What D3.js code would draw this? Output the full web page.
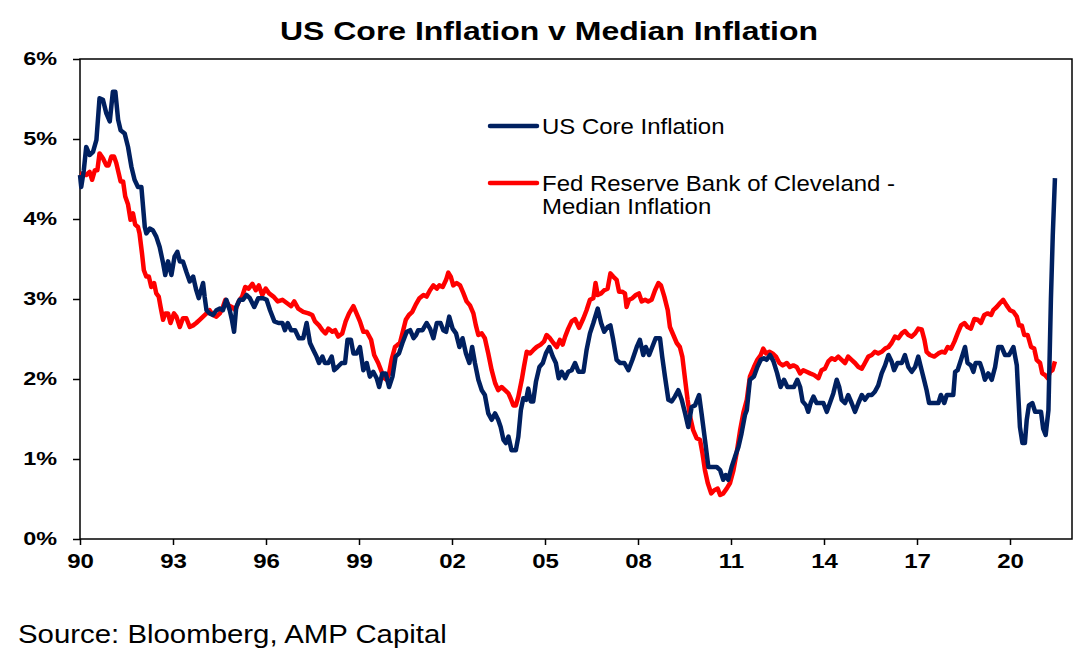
<!DOCTYPE html>
<meta charset="utf-8">
<head>
<script src="https://cdn.jsdelivr.net/npm/d3@7"></script>
<style>
	body { margin: 0; background: #fff; }
	text { font-family: Arial, "Liberation Sans", sans-serif; }
</style>
</head>
<body>
<div id="chart"></div>
<script>

// ---------- data (decimal year, % y/y) ----------
const coreInflation = [
	[1990.00,4.55],[1990.04,4.40],[1990.12,4.60],[1990.20,4.90],[1990.31,4.80],[1990.42,4.84],[1990.53,4.99],[1990.63,5.51],
	[1990.74,5.49],[1990.85,5.32],[1990.96,5.22],[1991.06,5.59],[1991.14,5.59],[1991.23,5.24],[1991.31,5.11],[1991.44,5.07],
	[1991.55,4.90],[1991.66,4.65],[1991.76,4.49],[1991.87,4.40],[1991.98,4.40],[1992.09,3.90],[1992.14,3.82],[1992.25,3.88],
	[1992.35,3.86],[1992.46,3.78],[1992.57,3.65],[1992.68,3.45],[1992.75,3.30],[1992.84,3.47],[1992.95,3.30],[1993.05,3.53],
	[1993.14,3.59],[1993.22,3.47],[1993.32,3.47],[1993.43,3.34],[1993.54,3.22],[1993.65,3.28],[1993.75,3.11],[1993.83,3.01],
	[1993.97,3.20],[1994.02,3.03],[1994.08,2.86],[1994.18,2.82],[1994.29,2.80],[1994.40,2.86],[1994.51,2.88],[1994.61,2.86],
	[1994.72,2.99],[1994.83,2.86],[1994.90,2.74],[1994.97,2.59],[1995.04,2.90],[1995.15,2.99],[1995.26,2.99],[1995.37,3.05],
	[1995.48,3.01],[1995.62,2.90],[1995.75,3.01],[1995.91,3.01],[1996.02,2.99],[1996.13,2.86],[1996.27,2.72],[1996.40,2.70],
	[1996.53,2.70],[1996.61,2.61],[1996.70,2.70],[1996.81,2.61],[1996.94,2.61],[1997.06,2.51],[1997.20,2.51],[1997.31,2.70],
	[1997.42,2.45],[1997.53,2.36],[1997.63,2.28],[1997.71,2.20],[1997.82,2.28],[1997.90,2.20],[1998.01,2.20],[1998.12,2.28],
	[1998.20,2.11],[1998.31,2.15],[1998.44,2.20],[1998.55,2.20],[1998.63,2.49],[1998.74,2.49],[1998.82,2.32],[1998.92,2.32],
	[1999.03,2.40],[1999.14,2.11],[1999.25,2.20],[1999.35,2.03],[1999.46,2.09],[1999.57,2.01],[1999.65,1.90],[1999.75,2.07],
	[1999.86,2.07],[1999.97,1.90],[2000.08,2.03],[2000.18,2.28],[2000.29,2.32],[2000.40,2.45],[2000.54,2.59],[2000.65,2.61],
	[2000.76,2.51],[2000.84,2.55],[2000.91,2.61],[2001.05,2.61],[2001.18,2.70],[2001.29,2.63],[2001.40,2.51],[2001.51,2.70],
	[2001.63,2.70],[2001.72,2.61],[2001.81,2.59],[2001.91,2.78],[2002.02,2.63],[2002.13,2.57],[2002.24,2.40],[2002.34,2.51],
	[2002.45,2.32],[2002.56,2.20],[2002.65,2.40],[2002.74,2.20],[2002.85,1.99],[2002.96,1.86],[2003.06,1.80],[2003.17,1.57],
	[2003.28,1.49],[2003.39,1.57],[2003.49,1.49],[2003.57,1.40],[2003.66,1.24],[2003.74,1.20],[2003.82,1.28],[2003.92,1.11],
	[2004.06,1.11],[2004.14,1.28],[2004.22,1.61],[2004.30,1.76],[2004.39,1.74],[2004.46,1.88],[2004.54,1.72],[2004.62,1.72],
	[2004.71,1.97],[2004.82,2.15],[2004.93,2.20],[2005.03,2.32],[2005.14,2.40],[2005.25,2.28],[2005.35,2.20],[2005.44,2.01],
	[2005.54,2.09],[2005.65,2.01],[2005.75,2.09],[2005.86,2.11],[2005.97,2.20],[2006.08,2.09],[2006.24,2.09],[2006.34,2.36],
	[2006.45,2.57],[2006.56,2.70],[2006.70,2.88],[2006.81,2.70],[2006.91,2.59],[2007.02,2.65],[2007.11,2.67],[2007.20,2.49],
	[2007.31,2.24],[2007.42,2.20],[2007.56,2.20],[2007.69,2.11],[2007.82,2.24],[2007.96,2.40],[2008.06,2.49],[2008.17,2.30],
	[2008.25,2.40],[2008.36,2.30],[2008.46,2.40],[2008.57,2.51],[2008.71,2.51],[2008.78,2.28],[2008.87,2.03],[2008.98,1.74],
	[2009.09,1.72],[2009.19,1.78],[2009.30,1.86],[2009.41,1.74],[2009.52,1.57],[2009.62,1.40],[2009.73,1.65],[2009.84,1.67],
	[2009.97,1.80],[2010.05,1.57],[2010.16,1.24],[2010.27,0.90],[2010.40,0.90],[2010.54,0.90],[2010.65,0.86],[2010.75,0.74],
	[2010.83,0.80],[2010.91,0.74],[2011.02,0.90],[2011.13,1.03],[2011.24,1.15],[2011.34,1.32],[2011.45,1.55],[2011.51,1.61],
	[2011.61,1.99],[2011.74,2.03],[2011.85,2.15],[2011.96,2.24],[2012.06,2.26],[2012.15,2.24],[2012.26,2.30],[2012.37,2.22],
	[2012.49,2.07],[2012.60,1.90],[2012.71,1.99],[2012.82,1.90],[2012.92,1.90],[2013.03,1.90],[2013.14,1.99],[2013.23,1.90],
	[2013.31,1.72],[2013.42,1.67],[2013.49,1.59],[2013.57,1.70],[2013.66,1.78],[2013.76,1.70],[2013.87,1.70],[2013.98,1.70],
	[2014.09,1.59],[2014.19,1.70],[2014.30,1.82],[2014.41,1.99],[2014.49,1.90],[2014.57,1.74],[2014.68,1.70],[2014.78,1.80],
	[2014.89,1.70],[2015.00,1.59],[2015.11,1.70],[2015.22,1.80],[2015.32,1.74],[2015.43,1.80],[2015.54,1.80],[2015.64,1.84],
	[2015.75,1.92],[2015.86,2.07],[2015.97,2.17],[2016.08,2.30],[2016.18,2.22],[2016.26,2.11],[2016.37,2.20],[2016.51,2.20],
	[2016.61,2.30],[2016.72,2.15],[2016.83,2.09],[2016.94,2.15],[2017.04,2.28],[2017.15,2.11],[2017.24,1.97],[2017.31,1.86],
	[2017.39,1.70],[2017.53,1.70],[2017.69,1.70],[2017.77,1.80],[2017.88,1.70],[2017.96,1.80],[2018.06,1.80],[2018.17,1.80],
	[2018.23,2.09],[2018.31,2.11],[2018.42,2.24],[2018.55,2.40],[2018.63,2.20],[2018.74,2.17],[2018.82,2.09],[2018.89,2.20],
	[2019.03,2.20],[2019.11,2.11],[2019.19,1.99],[2019.30,2.07],[2019.41,1.99],[2019.52,2.15],[2019.62,2.40],[2019.73,2.40],
	[2019.84,2.30],[2019.97,2.30],[2020.11,2.40],[2020.22,2.17],[2020.27,1.78],[2020.32,1.40],[2020.40,1.20],[2020.48,1.20],
	[2020.54,1.49],[2020.61,1.67],[2020.72,1.70],[2020.81,1.59],[2020.91,1.59],[2021.00,1.59],[2021.07,1.38],[2021.15,1.30],
	[2021.24,1.61],[2021.32,3.00],[2021.38,3.80],[2021.45,4.51]
]

const medianInflation = [
	[1990.00,4.57],[1990.20,4.55],[1990.31,4.59],[1990.39,4.49],[1990.48,4.61],[1990.56,4.61],[1990.63,4.82],[1990.74,4.76],
	[1990.85,4.67],[1990.92,4.67],[1991.01,4.78],[1991.10,4.78],[1991.17,4.70],[1991.25,4.57],[1991.31,4.47],[1991.39,4.47],
	[1991.46,4.28],[1991.55,4.18],[1991.63,3.99],[1991.71,4.07],[1991.78,3.93],[1991.87,3.90],[1991.92,3.82],[1992.00,3.57],
	[1992.06,3.36],[1992.14,3.28],[1992.22,3.28],[1992.30,3.15],[1992.39,3.20],[1992.46,3.07],[1992.54,3.03],[1992.60,2.90],
	[1992.68,2.74],[1992.75,2.82],[1992.84,2.82],[1992.92,2.70],[1993.03,2.82],[1993.11,2.78],[1993.22,2.65],[1993.32,2.76],
	[1993.43,2.76],[1993.54,2.65],[1993.65,2.67],[1993.75,2.70],[1993.86,2.74],[1993.97,2.78],[1994.08,2.82],[1994.18,2.86],
	[1994.29,2.80],[1994.40,2.78],[1994.51,2.82],[1994.61,2.90],[1994.69,2.99],[1994.80,2.92],[1994.90,2.90],[1995.01,2.86],
	[1995.12,2.97],[1995.23,3.03],[1995.33,3.15],[1995.44,3.13],[1995.56,3.19],[1995.67,3.11],[1995.77,3.17],[1995.88,3.05],
	[1995.99,3.13],[1996.10,3.07],[1996.24,3.03],[1996.38,2.97],[1996.53,2.99],[1996.67,2.95],[1996.81,2.91],[1996.91,2.97],
	[1997.04,2.88],[1997.20,2.84],[1997.37,2.82],[1997.49,2.80],[1997.58,2.72],[1997.71,2.67],[1997.82,2.61],[1997.92,2.57],
	[1998.01,2.63],[1998.14,2.59],[1998.23,2.61],[1998.33,2.53],[1998.46,2.57],[1998.57,2.72],[1998.68,2.82],[1998.82,2.91],
	[1998.92,2.82],[1999.03,2.72],[1999.14,2.59],[1999.25,2.59],[1999.39,2.49],[1999.49,2.30],[1999.62,2.20],[1999.73,2.09],
	[1999.82,2.01],[1999.89,1.99],[1999.97,2.07],[2000.05,2.24],[2000.16,2.40],[2000.25,2.43],[2000.32,2.45],[2000.40,2.57],
	[2000.51,2.74],[2000.61,2.80],[2000.72,2.84],[2000.83,2.93],[2000.95,3.01],[2001.08,3.05],[2001.18,3.03],[2001.29,3.11],
	[2001.40,3.17],[2001.51,3.13],[2001.59,3.17],[2001.70,3.15],[2001.81,3.24],[2001.88,3.33],[2001.96,3.28],[2002.04,3.17],
	[2002.15,3.20],[2002.26,3.17],[2002.37,3.07],[2002.47,2.97],[2002.58,2.92],[2002.69,2.82],[2002.77,2.67],[2002.85,2.55],
	[2002.96,2.57],[2003.06,2.51],[2003.17,2.32],[2003.28,2.11],[2003.39,1.95],[2003.49,1.86],[2003.60,1.90],[2003.71,1.86],
	[2003.82,1.82],[2003.89,1.76],[2003.98,1.67],[2004.06,1.67],[2004.14,1.78],[2004.25,1.99],[2004.32,2.15],[2004.41,2.34],
	[2004.52,2.32],[2004.62,2.36],[2004.73,2.40],[2004.86,2.43],[2004.97,2.47],[2005.05,2.55],[2005.16,2.51],[2005.27,2.45],
	[2005.38,2.40],[2005.48,2.49],[2005.57,2.43],[2005.65,2.53],[2005.75,2.63],[2005.86,2.72],[2005.97,2.75],[2006.10,2.64],
	[2006.24,2.76],[2006.34,2.86],[2006.45,2.99],[2006.56,3.01],[2006.63,3.20],[2006.70,3.05],[2006.81,3.07],[2006.91,3.11],
	[2007.02,3.13],[2007.11,3.32],[2007.20,3.28],[2007.31,3.24],[2007.39,3.09],[2007.49,3.09],[2007.58,3.07],[2007.63,2.90],
	[2007.71,2.99],[2007.82,3.01],[2007.93,3.05],[2008.03,3.07],[2008.12,2.97],[2008.23,2.99],[2008.33,2.97],[2008.44,2.99],
	[2008.55,3.11],[2008.66,3.20],[2008.74,3.17],[2008.85,3.03],[2008.96,2.86],[2009.03,2.65],[2009.14,2.55],[2009.25,2.45],
	[2009.35,2.40],[2009.43,2.28],[2009.52,1.99],[2009.60,1.74],[2009.68,1.53],[2009.78,1.36],[2009.89,1.26],[2010.00,1.24],
	[2010.08,1.07],[2010.16,0.86],[2010.25,0.70],[2010.36,0.57],[2010.46,0.61],[2010.57,0.63],[2010.65,0.55],[2010.75,0.57],
	[2010.86,0.63],[2010.97,0.70],[2011.08,0.86],[2011.18,1.07],[2011.29,1.35],[2011.40,1.58],[2011.51,1.74],[2011.61,2.03],
	[2011.74,2.15],[2011.85,2.24],[2011.96,2.30],[2012.04,2.38],[2012.13,2.32],[2012.24,2.34],[2012.34,2.32],[2012.45,2.28],
	[2012.56,2.20],[2012.67,2.17],[2012.80,2.20],[2012.90,2.15],[2013.01,2.17],[2013.12,2.15],[2013.23,2.07],[2013.33,2.11],
	[2013.44,2.09],[2013.55,2.07],[2013.68,2.05],[2013.82,2.01],[2013.92,2.11],[2014.03,2.13],[2014.14,2.22],[2014.25,2.26],
	[2014.35,2.24],[2014.46,2.28],[2014.57,2.24],[2014.68,2.20],[2014.78,2.28],[2014.89,2.24],[2015.00,2.20],[2015.11,2.15],
	[2015.22,2.13],[2015.32,2.20],[2015.43,2.28],[2015.54,2.30],[2015.64,2.34],[2015.75,2.32],[2015.86,2.34],[2015.97,2.38],
	[2016.08,2.40],[2016.18,2.45],[2016.29,2.53],[2016.40,2.51],[2016.51,2.57],[2016.61,2.60],[2016.72,2.55],[2016.83,2.53],
	[2016.94,2.57],[2017.04,2.63],[2017.15,2.62],[2017.24,2.49],[2017.31,2.34],[2017.42,2.30],[2017.56,2.28],[2017.69,2.32],
	[2017.80,2.34],[2017.90,2.33],[2017.99,2.40],[2018.10,2.38],[2018.21,2.47],[2018.31,2.57],[2018.42,2.67],[2018.53,2.70],
	[2018.63,2.65],[2018.74,2.63],[2018.85,2.75],[2018.96,2.74],[2019.06,2.70],[2019.17,2.80],[2019.28,2.82],[2019.39,2.80],
	[2019.46,2.86],[2019.57,2.90],[2019.68,2.95],[2019.78,2.99],[2019.89,2.92],[2020.00,2.86],[2020.11,2.84],[2020.22,2.78],
	[2020.29,2.67],[2020.38,2.67],[2020.46,2.55],[2020.57,2.55],[2020.68,2.40],[2020.78,2.38],[2020.86,2.24],[2020.97,2.20],
	[2021.04,2.07],[2021.13,2.05],[2021.22,2.01],[2021.29,2.09],[2021.37,2.11],[2021.45,2.22]
]

const xTickYears = [1990, 1993, 1996, 1999, 2002, 2005, 2008, 2011, 2014, 2017, 2020]
const yTickValues = [0, 1, 2, 3, 4, 5, 6]

const legendLabels = [
	{name: 'US Core Inflation', lines: ['US Core Inflation'], color: '#002060'},
	{name: 'Median', lines: ['Fed Reserve Bank of Cleveland -', 'Median Inflation'], color: '#ff0000'}
]

// ---------- layout ----------
const W = 1091, H = 668
const plot = {left: 80, right: 1072, top: 59, bottom: 539}

const svg = d3.select('#chart').append('svg')
	.attr('width', W)
	.attr('height', H)

const x = d3.scaleLinear()
	.domain([1990, 2022])
	.range([plot.left, plot.right])

const y = d3.scaleLinear()
	.domain([0, 6])
	.range([plot.bottom, plot.top])

// text in the original is a little stretched sideways
function stretched(sel, tx, ty, sx) {
	return sel.attr('x', 0).attr('y', 0)
		.attr('transform', `translate(${tx},${ty}) scale(${sx},1)`)
}

// title
stretched(svg.append('text'), 549, 40, 1.23)
	.attr('text-anchor', 'middle')
	.style('font-size', '26px')
	.style('font-weight', 'bold')
	.text('US Core Inflation v Median Inflation')

// axes
const yAxis = svg.append('g')
	.attr('transform', `translate(${plot.left},0)`)
	.call(d3.axisLeft(y).tickValues(yTickValues).tickSize(7).tickPadding(16).tickFormat(d => d + '%'))

const xAxis = svg.append('g')
	.attr('transform', `translate(0,${plot.bottom})`)
	.call(d3.axisBottom(x).tickValues(xTickYears).tickSize(6).tickPadding(9).tickFormat(d => String(d).slice(2)))

;[xAxis, yAxis].forEach(ax => {
	ax.select('.domain').remove()
	ax.selectAll('line').attr('stroke', '#000').attr('stroke-width', 1.5)
	ax.selectAll('text')
		.style('font-family', 'Arial, "Liberation Sans", sans-serif')
		.style('font-weight', 'bold')
		.attr('fill', '#000')
})

yAxis.selectAll('text')
	.style('font-size', '18px')
	.attr('transform', 'translate(-23,0) scale(1.3,1)')
	.attr('x', 0)

xAxis.selectAll('text')
	.style('font-size', '20px')
	.attr('transform', 'scale(1.2,1)')

// plot frame
svg.append('rect')
	.attr('x', plot.left)
	.attr('y', plot.top)
	.attr('width', plot.right - plot.left)
	.attr('height', plot.bottom - plot.top)
	.attr('fill', 'none')
	.attr('stroke', '#000')
	.attr('stroke-width', 1.5)

// lines
const line = d3.line()
	.x(d => x(d[0]))
	.y(d => y(d[1]))

svg.append('path')
	.datum(medianInflation)
	.attr('d', line)
	.attr('fill', 'none')
	.attr('stroke', legendLabels[1].color)
	.attr('stroke-width', 4.5)
	.attr('stroke-linejoin', 'round')

svg.append('path')
	.datum(coreInflation)
	.attr('d', line)
	.attr('fill', 'none')
	.attr('stroke', legendLabels[0].color)
	.attr('stroke-width', 4.5)
	.attr('stroke-linejoin', 'round')

// legend
const legend = svg.append('g')
	.attr('transform', 'translate(490,126)')

const items = legend.selectAll('g')
	.data(legendLabels)
	.enter().append('g')
	.attr('transform', (d, i) => `translate(0,${i * 57})`)

items.append('line')
	.attr('x1', 0).attr('x2', 47)
	.attr('stroke', d => d.color)
	.attr('stroke-width', 4.5)
	.attr('stroke-linecap', 'round')

items.append('text')
	.attr('transform', 'translate(52,8) scale(1.09,1)')
	.style('font-size', '22px')
	.selectAll('tspan')
	.data(d => d.lines)
	.enter().append('tspan')
		.attr('x', 0)
		.attr('dy', (d, i) => i ? 23 : 0)
		.text(d => d)

// source
stretched(svg.append('text'), 18, 643, 1.13)
	.style('font-size', '26px')
	.text('Source: Bloomberg, AMP Capital')

</script>
</body>
